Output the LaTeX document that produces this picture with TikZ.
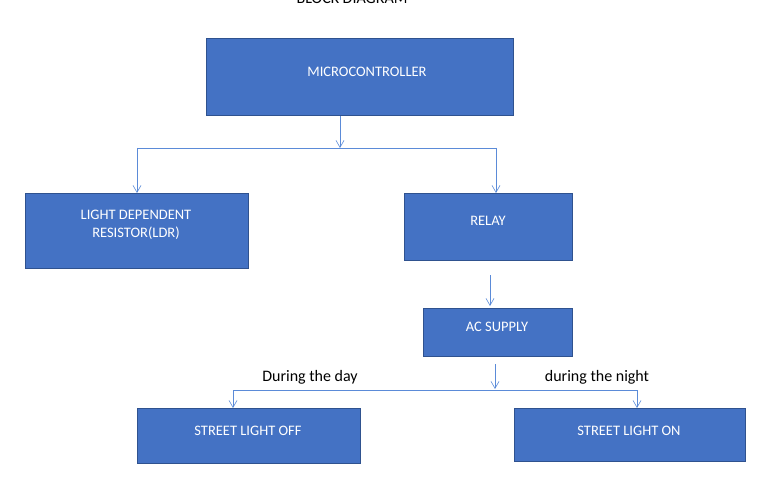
\documentclass[tikz,border=0pt]{standalone}
\usepackage{fontspec}
\setmainfont{Carlito}
\usetikzlibrary{arrows.meta}
\definecolor{bfill}{HTML}{4472C4}
\definecolor{bdraw}{HTML}{2F528F}
\definecolor{lin}{HTML}{5B8BD8}
\begin{document}
\begin{tikzpicture}[x=1pt,y=-1pt,
 blk/.style={draw=bdraw,fill=bfill,line width=0.8pt},
 bt/.style={text=white,font=\fontsize{14.5}{18}\selectfont,align=center},
 ln/.style={draw=lin,line width=0.7pt},
 ar/.style={ln,-{Straight Barb[length=7pt,width=8pt,line width=0.6pt]}},
 lab/.style={font=\fontsize{16}{18}\selectfont}]
\useasboundingbox (0,0) rectangle (762,489);
\node[font=\fontsize{16}{18}\selectfont] (title) at (352,-2) {BLOCK DIAGRAM};
\node[blk,minimum width=307,minimum height=77,anchor=north west] (mc) at (206,38) {};
\node[bt] (mct) at (367,72) {MICROCONTROLLER};
\node[blk,minimum width=223,minimum height=75,anchor=north west] (ldr) at (25,193) {};
\node[bt] (ldrt) at (136,225) {LIGHT DEPENDENT\\RESISTOR(LDR)};
\node[blk,minimum width=168,minimum height=67,anchor=north west] (relay) at (404,193) {};
\node[bt] (relayt) at (488,221) {RELAY};
\node[blk,minimum width=149,minimum height=48,anchor=north west] (ac) at (423,308) {};
\node[bt] (act) at (497,327) {AC SUPPLY};
\node[blk,minimum width=223,minimum height=55,anchor=north west] (off) at (137,408) {};
\node[bt] (offt) at (248,431) {STREET LIGHT OFF};
\node[blk,minimum width=231,minimum height=53,anchor=north west] (on) at (514,408) {};
\node[bt] (ont) at (629,431) {STREET LIGHT ON};
\coordinate (j1) at (340,148);
\coordinate (l1) at (137,148);
\coordinate (r1) at (496,148);
\draw[ar] (mc.south -| j1) -- (j1);
\draw[ln] (l1) -- (r1);
\draw[ar] (l1) -- (l1 |- ldr.north);
\draw[ar] (r1) -- (r1 |- relay.north);
\coordinate (ra) at (490,275);
\coordinate (rb) at (490,306);
\draw[ar] (ra) -- (rb);
\coordinate (aa) at (495,364);
\coordinate (j2) at (495,389);
\coordinate (l2) at (233,390);
\coordinate (r2) at (637,390);
\draw[ar] (aa) -- (j2);
\draw[ln] (l2) -- (r2);
\draw[ar] (l2) -- (l2 |- off.north);
\draw[ar] (r2) -- (r2 |- on.north);
\node[lab] (day) at (310,377) {During the day};
\node[lab] (night) at (597,377) {during the night};
\end{tikzpicture}
\end{document}
